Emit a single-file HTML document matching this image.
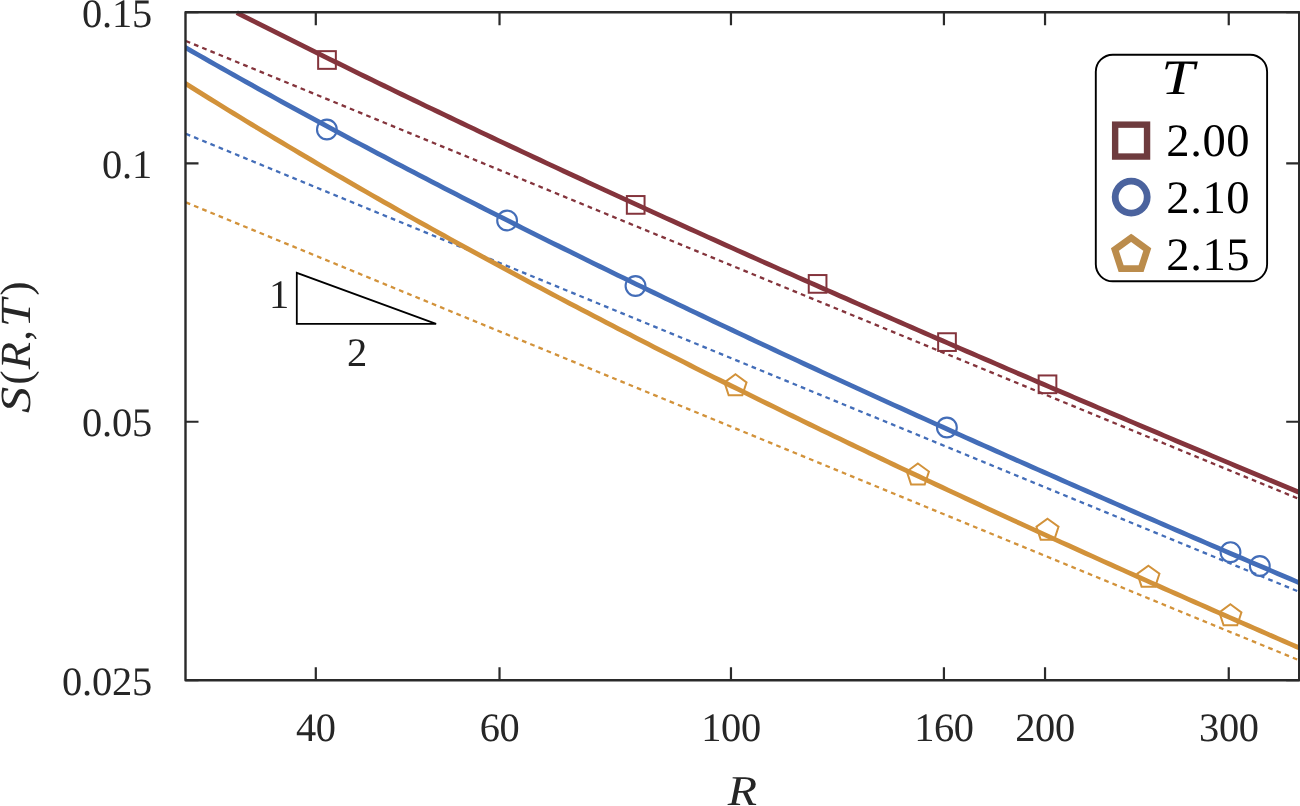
<!DOCTYPE html>
<html><head><meta charset="utf-8"><title>S(R,T) plot</title>
<style>html,body{margin:0;padding:0;background:#fff;width:1300px;height:806px;overflow:hidden}svg{display:block}</style>
</head><body>
<svg width="1300" height="806" viewBox="0 0 1300 806" text-rendering="geometricPrecision">
<defs><clipPath id="c"><rect x="185.5" y="12.2" width="1113.7" height="668.0"/></clipPath></defs>
<g clip-path="url(#c)" fill="none">
<path d="M170.0,34.47 L1310,503.47" stroke="#84343c" stroke-width="2.3" stroke-dasharray="4.7 4.167" stroke-dashoffset="0.620"/>
<path d="M170.0,127.30 L1310,596.29" stroke="#436db8" stroke-width="2.3" stroke-dasharray="4.7 4.167" stroke-dashoffset="0.620"/>
<path d="M170.0,195.82 L1310,664.82" stroke="#d2923a" stroke-width="2.3" stroke-dasharray="4.7 4.167" stroke-dashoffset="0.620"/>
</g>
<defs><clipPath id="c2"><rect x="185.5" y="0" width="1113.7" height="680.2"/></clipPath></defs>
<g clip-path="url(#c2)" fill="none">
<path d="M236.8,12.67 L240.0,14.30 L246.0,17.34 L252.0,20.37 L258.0,23.40 L264.0,26.43 L270.0,29.44 L276.0,32.46 L282.0,35.46 L288.0,38.46 L294.0,41.46 L300.0,44.45 L306.0,47.43 L312.0,50.41 L318.0,53.38 L324.0,56.35 L330.0,59.31 L336.0,62.27 L342.0,65.22 L348.0,68.17 L354.0,71.11 L360.0,74.05 L366.0,76.98 L372.0,79.91 L378.0,82.83 L384.0,85.75 L390.0,88.66 L396.0,91.57 L402.0,94.47 L408.0,97.37 L414.0,100.26 L420.0,103.15 L426.0,106.04 L432.0,108.92 L438.0,111.79 L444.0,114.66 L450.0,117.53 L456.0,120.39 L462.0,123.25 L468.0,126.10 L474.0,128.95 L480.0,131.80 L486.0,134.64 L492.0,137.47 L498.0,140.31 L504.0,143.13 L510.0,145.96 L516.0,148.78 L522.0,151.59 L528.0,154.41 L534.0,157.21 L540.0,160.02 L546.0,162.82 L552.0,165.62 L558.0,168.41 L564.0,171.20 L570.0,173.98 L576.0,176.76 L582.0,179.54 L588.0,182.32 L594.0,185.09 L600.0,187.85 L606.0,190.62 L612.0,193.38 L618.0,196.13 L624.0,198.89 L630.0,201.64 L636.0,204.38 L642.0,207.13 L648.0,209.87 L654.0,212.60 L660.0,215.33 L666.0,218.06 L672.0,220.79 L678.0,223.51 L684.0,226.23 L690.0,228.95 L696.0,231.66 L702.0,234.38 L708.0,237.08 L714.0,239.79 L720.0,242.49 L726.0,245.19 L732.0,247.88 L738.0,250.58 L744.0,253.27 L750.0,255.95 L756.0,258.64 L762.0,261.32 L768.0,264.00 L774.0,266.67 L780.0,269.34 L786.0,272.01 L792.0,274.68 L798.0,277.35 L804.0,280.01 L810.0,282.67 L816.0,285.32 L822.0,287.98 L828.0,290.63 L834.0,293.28 L840.0,295.93 L846.0,298.57 L852.0,301.21 L858.0,303.85 L864.0,306.49 L870.0,309.12 L876.0,311.75 L882.0,314.38 L888.0,317.01 L894.0,319.63 L900.0,322.26 L906.0,324.87 L912.0,327.49 L918.0,330.11 L924.0,332.72 L930.0,335.33 L936.0,337.94 L942.0,340.55 L948.0,343.15 L954.0,345.75 L960.0,348.35 L966.0,350.95 L972.0,353.55 L978.0,356.14 L984.0,358.73 L990.0,361.32 L996.0,363.91 L1002.0,366.49 L1008.0,369.08 L1014.0,371.66 L1020.0,374.24 L1026.0,376.82 L1032.0,379.39 L1038.0,381.97 L1044.0,384.54 L1050.0,387.11 L1056.0,389.68 L1062.0,392.24 L1068.0,394.81 L1074.0,397.37 L1080.0,399.93 L1086.0,402.49 L1092.0,405.05 L1098.0,407.60 L1104.0,410.15 L1110.0,412.71 L1116.0,415.26 L1122.0,417.81 L1128.0,420.35 L1134.0,422.90 L1140.0,425.44 L1146.0,427.98 L1152.0,430.52 L1158.0,433.06 L1164.0,435.60 L1170.0,438.14 L1176.0,440.67 L1182.0,443.20 L1188.0,445.73 L1194.0,448.26 L1200.0,450.79 L1206.0,453.32 L1212.0,455.84 L1218.0,458.36 L1224.0,460.89 L1230.0,463.41 L1236.0,465.93 L1242.0,468.44 L1248.0,470.96 L1254.0,473.47 L1260.0,475.99 L1266.0,478.50 L1272.0,481.01 L1278.0,483.52 L1284.0,486.03 L1290.0,488.53 L1296.0,491.04 L1302.0,493.54 L1308.0,496.04 L1314.0,498.55" stroke="#84343c" stroke-width="4.8" stroke-linejoin="round"/>
<path d="M170.0,38.66 L174.0,40.97 L180.0,44.42 L186.0,47.87 L192.0,51.31 L198.0,54.74 L204.0,58.16 L210.0,61.57 L216.0,64.97 L222.0,68.36 L228.0,71.75 L234.0,75.12 L240.0,78.49 L246.0,81.84 L252.0,85.19 L258.0,88.53 L264.0,91.86 L270.0,95.18 L276.0,98.49 L282.0,101.79 L288.0,105.09 L294.0,108.38 L300.0,111.65 L306.0,114.93 L312.0,118.19 L318.0,121.44 L324.0,124.69 L330.0,127.93 L336.0,131.16 L342.0,134.38 L348.0,137.60 L354.0,140.80 L360.0,144.00 L366.0,147.20 L372.0,150.38 L378.0,153.56 L384.0,156.73 L390.0,159.89 L396.0,163.05 L402.0,166.20 L408.0,169.34 L414.0,172.48 L420.0,175.60 L426.0,178.73 L432.0,181.84 L438.0,184.95 L444.0,188.05 L450.0,191.14 L456.0,194.23 L462.0,197.31 L468.0,200.38 L474.0,203.45 L480.0,206.51 L486.0,209.57 L492.0,212.62 L498.0,215.66 L504.0,218.70 L510.0,221.73 L516.0,224.75 L522.0,227.77 L528.0,230.78 L534.0,233.79 L540.0,236.79 L546.0,239.79 L552.0,242.78 L558.0,245.76 L564.0,248.74 L570.0,251.71 L576.0,254.68 L582.0,257.64 L588.0,260.59 L594.0,263.54 L600.0,266.49 L606.0,269.43 L612.0,272.36 L618.0,275.29 L624.0,278.21 L630.0,281.13 L636.0,284.05 L642.0,286.95 L648.0,289.86 L654.0,292.76 L660.0,295.65 L666.0,298.54 L672.0,301.42 L678.0,304.30 L684.0,307.18 L690.0,310.05 L696.0,312.91 L702.0,315.77 L708.0,318.63 L714.0,321.48 L720.0,324.32 L726.0,327.17 L732.0,330.00 L738.0,332.84 L744.0,335.66 L750.0,338.49 L756.0,341.31 L762.0,344.13 L768.0,346.94 L774.0,349.74 L780.0,352.55 L786.0,355.35 L792.0,358.14 L798.0,360.93 L804.0,363.72 L810.0,366.50 L816.0,369.28 L822.0,372.06 L828.0,374.83 L834.0,377.60 L840.0,380.36 L846.0,383.12 L852.0,385.88 L858.0,388.63 L864.0,391.38 L870.0,394.12 L876.0,396.86 L882.0,399.60 L888.0,402.34 L894.0,405.07 L900.0,407.79 L906.0,410.52 L912.0,413.24 L918.0,415.95 L924.0,418.67 L930.0,421.38 L936.0,424.08 L942.0,426.79 L948.0,429.49 L954.0,432.19 L960.0,434.88 L966.0,437.57 L972.0,440.26 L978.0,442.94 L984.0,445.62 L990.0,448.30 L996.0,450.98 L1002.0,453.65 L1008.0,456.32 L1014.0,458.98 L1020.0,461.65 L1026.0,464.31 L1032.0,466.96 L1038.0,469.62 L1044.0,472.27 L1050.0,474.92 L1056.0,477.57 L1062.0,480.21 L1068.0,482.85 L1074.0,485.49 L1080.0,488.12 L1086.0,490.75 L1092.0,493.38 L1098.0,496.01 L1104.0,498.64 L1110.0,501.26 L1116.0,503.88 L1122.0,506.49 L1128.0,509.11 L1134.0,511.72 L1140.0,514.33 L1146.0,516.94 L1152.0,519.54 L1158.0,522.14 L1164.0,524.74 L1170.0,527.34 L1176.0,529.93 L1182.0,532.52 L1188.0,535.12 L1194.0,537.70 L1200.0,540.29 L1206.0,542.87 L1212.0,545.45 L1218.0,548.03 L1224.0,550.61 L1230.0,553.18 L1236.0,555.75 L1242.0,558.32 L1248.0,560.89 L1254.0,563.46 L1260.0,566.02 L1266.0,568.58 L1272.0,571.14 L1278.0,573.70 L1284.0,576.26 L1290.0,578.81 L1296.0,581.36 L1302.0,583.91 L1308.0,586.46 L1314.0,589.00" stroke="#436db8" stroke-width="4.8" stroke-linejoin="round"/>
<path d="M170.0,73.79 L174.0,76.32 L180.0,80.11 L186.0,83.89 L192.0,87.65 L198.0,91.40 L204.0,95.14 L210.0,98.86 L216.0,102.58 L222.0,106.28 L228.0,109.97 L234.0,113.65 L240.0,117.31 L246.0,120.97 L252.0,124.61 L258.0,128.24 L264.0,131.86 L270.0,135.47 L276.0,139.07 L282.0,142.66 L288.0,146.23 L294.0,149.80 L300.0,153.35 L306.0,156.90 L312.0,160.43 L318.0,163.95 L324.0,167.47 L330.0,170.97 L336.0,174.46 L342.0,177.94 L348.0,181.42 L354.0,184.88 L360.0,188.33 L366.0,191.77 L372.0,195.21 L378.0,198.63 L384.0,202.04 L390.0,205.45 L396.0,208.84 L402.0,212.23 L408.0,215.60 L414.0,218.97 L420.0,222.33 L426.0,225.68 L432.0,229.02 L438.0,232.35 L444.0,235.67 L450.0,238.99 L456.0,242.30 L462.0,245.59 L468.0,248.88 L474.0,252.16 L480.0,255.43 L486.0,258.70 L492.0,261.95 L498.0,265.20 L504.0,268.44 L510.0,271.67 L516.0,274.90 L522.0,278.11 L528.0,281.32 L534.0,284.52 L540.0,287.72 L546.0,290.90 L552.0,294.08 L558.0,297.25 L564.0,300.41 L570.0,303.57 L576.0,306.72 L582.0,309.86 L588.0,312.99 L594.0,316.12 L600.0,319.24 L606.0,322.36 L612.0,325.46 L618.0,328.56 L624.0,331.65 L630.0,334.74 L636.0,337.82 L642.0,340.89 L648.0,343.96 L654.0,347.02 L660.0,350.07 L666.0,353.12 L672.0,356.16 L678.0,359.20 L684.0,362.23 L690.0,365.25 L696.0,368.27 L702.0,371.28 L708.0,374.28 L714.0,377.28 L720.0,380.27 L726.0,383.26 L732.0,386.24 L738.0,389.22 L744.0,392.18 L750.0,395.15 L756.0,398.11 L762.0,401.06 L768.0,404.01 L774.0,406.95 L780.0,409.89 L786.0,412.82 L792.0,415.74 L798.0,418.66 L804.0,421.58 L810.0,424.49 L816.0,427.39 L822.0,430.29 L828.0,433.19 L834.0,436.08 L840.0,438.96 L846.0,441.84 L852.0,444.72 L858.0,447.59 L864.0,450.45 L870.0,453.31 L876.0,456.17 L882.0,459.02 L888.0,461.87 L894.0,464.71 L900.0,467.55 L906.0,470.38 L912.0,473.21 L918.0,476.03 L924.0,478.85 L930.0,481.67 L936.0,484.48 L942.0,487.29 L948.0,490.09 L954.0,492.89 L960.0,495.68 L966.0,498.47 L972.0,501.26 L978.0,504.04 L984.0,506.82 L990.0,509.59 L996.0,512.36 L1002.0,515.13 L1008.0,517.89 L1014.0,520.65 L1020.0,523.40 L1026.0,526.15 L1032.0,528.90 L1038.0,531.64 L1044.0,534.38 L1050.0,537.12 L1056.0,539.85 L1062.0,542.58 L1068.0,545.30 L1074.0,548.02 L1080.0,550.74 L1086.0,553.45 L1092.0,556.17 L1098.0,558.87 L1104.0,561.58 L1110.0,564.28 L1116.0,566.97 L1122.0,569.67 L1128.0,572.36 L1134.0,575.05 L1140.0,577.73 L1146.0,580.41 L1152.0,583.09 L1158.0,585.76 L1164.0,588.44 L1170.0,591.10 L1176.0,593.77 L1182.0,596.43 L1188.0,599.09 L1194.0,601.75 L1200.0,604.40 L1206.0,607.05 L1212.0,609.70 L1218.0,612.34 L1224.0,614.98 L1230.0,617.62 L1236.0,620.26 L1242.0,622.89 L1248.0,625.52 L1254.0,628.15 L1260.0,630.78 L1266.0,633.40 L1272.0,636.02 L1278.0,638.63 L1284.0,641.25 L1290.0,643.86 L1296.0,646.47 L1302.0,649.08 L1308.0,651.68 L1314.0,654.28" stroke="#d2923a" stroke-width="4.8" stroke-linejoin="round"/>
<rect x="318.15" y="51.15" width="17.7" height="17.7" stroke="#84343c" stroke-width="2"/>
<rect x="626.85" y="196.05" width="17.7" height="17.7" stroke="#84343c" stroke-width="2"/>
<rect x="808.75" y="275.05" width="17.7" height="17.7" stroke="#84343c" stroke-width="2"/>
<rect x="938.15" y="333.25" width="17.7" height="17.7" stroke="#84343c" stroke-width="2"/>
<rect x="1038.65" y="375.45" width="17.7" height="17.7" stroke="#84343c" stroke-width="2"/>
<circle cx="326.9" cy="129.5" r="9.9" stroke="#436db8" stroke-width="2.1"/>
<circle cx="507.1" cy="220.5" r="9.9" stroke="#436db8" stroke-width="2.1"/>
<circle cx="635.5" cy="286.0" r="9.9" stroke="#436db8" stroke-width="2.1"/>
<circle cx="946.9" cy="427.5" r="9.9" stroke="#436db8" stroke-width="2.1"/>
<circle cx="1230.5" cy="552.2" r="9.9" stroke="#436db8" stroke-width="2.1"/>
<circle cx="1259.8" cy="566" r="9.9" stroke="#436db8" stroke-width="2.1"/>
<polygon points="735.50,374.30 746.53,382.32 742.32,395.28 728.68,395.28 724.47,382.32" stroke="#d2923a" stroke-width="2"/>
<polygon points="917.90,463.50 928.93,471.52 924.72,484.48 911.08,484.48 906.87,471.52" stroke="#d2923a" stroke-width="2"/>
<polygon points="1047.50,518.70 1058.53,526.72 1054.32,539.68 1040.68,539.68 1036.47,526.72" stroke="#d2923a" stroke-width="2"/>
<polygon points="1148.40,565.70 1159.43,573.72 1155.22,586.68 1141.58,586.68 1137.37,573.72" stroke="#d2923a" stroke-width="2"/>
<polygon points="1230.40,604.30 1241.43,612.32 1237.22,625.28 1223.58,625.28 1219.37,612.32" stroke="#d2923a" stroke-width="2"/>
</g>
<rect x="185.5" y="12.2" width="1113.7" height="668.0" fill="none" stroke="#2a2a2a" stroke-width="2.4" stroke-linejoin="round"/>
<path d="M315.80,680.2 V667.2 M315.80,12.2 V25.2 M499.52,680.2 V667.2 M499.52,12.2 V25.2 M730.97,680.2 V667.2 M730.97,12.2 V25.2 M943.93,680.2 V667.2 M943.93,12.2 V25.2 M1045.04,680.2 V667.2 M1045.04,12.2 V25.2 M1228.75,680.2 V667.2 M1228.75,12.2 V25.2 M185.5,12.20 H198.5 M1299.2,12.20 H1286.2 M185.5,163.36 H198.5 M1299.2,163.36 H1286.2 M185.5,421.76 H198.5 M1299.2,421.76 H1286.2 M185.5,680.17 H198.5 M1299.2,680.17 H1286.2" stroke="#2a2a2a" stroke-width="2.2" fill="none"/>
<text x="315.8" y="741.1" font-family="Liberation Serif, serif" font-size="40.4" fill="#262626" text-anchor="middle" letter-spacing="-0.4">40</text>
<text x="499.5" y="741.1" font-family="Liberation Serif, serif" font-size="40.4" fill="#262626" text-anchor="middle" letter-spacing="-0.4">60</text>
<text x="731.0" y="741.1" font-family="Liberation Serif, serif" font-size="40.4" fill="#262626" text-anchor="middle" letter-spacing="-0.4">100</text>
<text x="943.9" y="741.1" font-family="Liberation Serif, serif" font-size="40.4" fill="#262626" text-anchor="middle" letter-spacing="-0.4">160</text>
<text x="1045.0" y="741.1" font-family="Liberation Serif, serif" font-size="40.4" fill="#262626" text-anchor="middle" letter-spacing="-0.4">200</text>
<text x="1228.8" y="741.1" font-family="Liberation Serif, serif" font-size="40.4" fill="#262626" text-anchor="middle" letter-spacing="-0.4">300</text>
<text x="151.9" y="26.8" font-family="Liberation Serif, serif" font-size="40.4" fill="#262626" text-anchor="end" letter-spacing="-0.2">0.15</text>
<text x="151.9" y="178.0" font-family="Liberation Serif, serif" font-size="40.4" fill="#262626" text-anchor="end" letter-spacing="-0.2">0.1</text>
<text x="151.9" y="436.4" font-family="Liberation Serif, serif" font-size="40.4" fill="#262626" text-anchor="end" letter-spacing="-0.2">0.05</text>
<text x="151.9" y="694.8" font-family="Liberation Serif, serif" font-size="40.4" fill="#262626" text-anchor="end" letter-spacing="-0.2">0.025</text>
<text transform="translate(742.5,805) scale(1.13,1)" x="0" y="0" font-family="Liberation Serif, serif" font-size="42.5" font-style="italic" fill="#262626" text-anchor="middle">R</text>
<g transform="translate(29.8,0) rotate(-90)" font-family="Liberation Serif, serif" font-size="43" fill="#262626" text-anchor="middle">
<text transform="translate(-399.9,0) scale(1.22,1)" x="0" y="0" font-style="italic">S</text>
<text transform="translate(-377.7,0) scale(1,1)" x="0" y="0">(</text>
<text transform="translate(-355.6,0) scale(1.04,1)" x="0" y="0" font-style="italic">R</text>
<text transform="translate(-335.4,0) scale(1,1)" x="0" y="0">,</text>
<text transform="translate(-313.3,0) scale(1.17,1)" x="0" y="0" font-style="italic">T</text>
<text transform="translate(-288.6,0) scale(1,1)" x="0" y="0">)</text>
</g>
<path d="M296.8,272.9 L296.8,323.9 L436.1,323.9 Z" fill="none" stroke="#000" stroke-width="1.8" stroke-linejoin="miter"/>
<text x="279" y="308" font-family="Liberation Serif, serif" font-size="40.5" fill="#222" text-anchor="middle">1</text>
<text x="357" y="366" font-family="Liberation Serif, serif" font-size="40.5" fill="#222" text-anchor="middle">2</text>
<rect x="1095.8" y="54.7" width="171.3" height="226.6" rx="17" ry="17" fill="#fff" stroke="#000" stroke-width="1.9"/>
<text transform="translate(1177.7,94) scale(1.2,1)" x="0" y="0" font-family="Liberation Serif, serif" font-size="49.5" font-style="italic" fill="#000" text-anchor="middle">T</text>
<rect x="1115.15" y="124.65" width="31.9" height="31.9" fill="none" stroke="#6e3b3e" stroke-width="6.4"/>
<circle cx="1131.2" cy="197.1" r="16.0" fill="none" stroke="#4b639e" stroke-width="6.8"/>
<polygon points="1131.10,237.85 1147.27,249.60 1141.09,268.60 1121.11,268.60 1114.93,249.60" fill="none" stroke="#bb8c4c" stroke-width="6.8"/>
<text x="1166.3" y="155.7" font-family="Liberation Serif, serif" font-size="46.6" letter-spacing="0.6" fill="#000">2.00</text>
<text x="1166.3" y="212.7" font-family="Liberation Serif, serif" font-size="46.6" letter-spacing="0.6" fill="#000">2.10</text>
<text x="1166.3" y="269.7" font-family="Liberation Serif, serif" font-size="46.6" letter-spacing="0.6" fill="#000">2.15</text>
</svg>
</body></html>
